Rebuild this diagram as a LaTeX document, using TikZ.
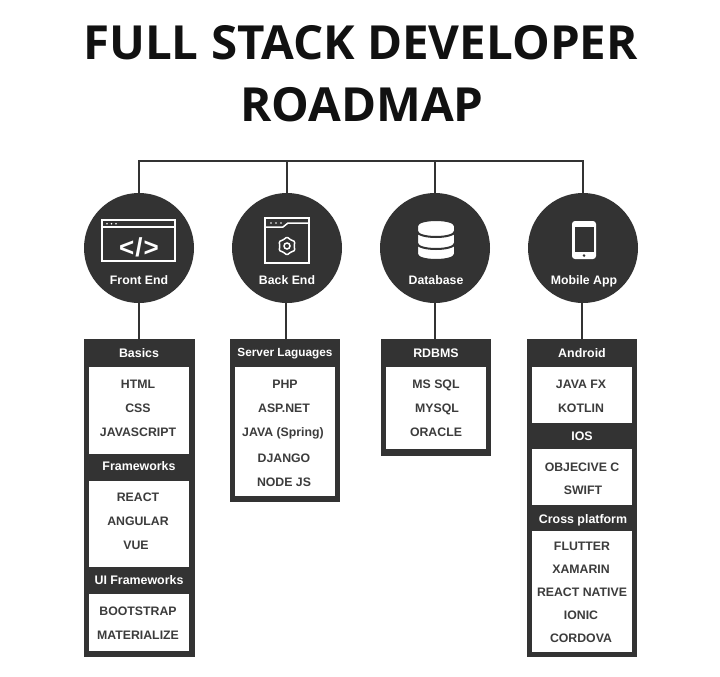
\documentclass[tikz,border=0pt]{standalone}
\usepackage{fontspec}
\setmainfont{Liberation Sans}
\newfontfamily\titlefont[FakeStretch=1.01]{Open Sans}
\definecolor{dk}{HTML}{333333}
\definecolor{itemc}{HTML}{3C3C3C}
\definecolor{titlec}{HTML}{111111}
\newcommand{\boxat}[6]{\node[#6] (#1) at ({(#2+#4)/2},{(#3+#5)/2}) [minimum width={(#4-#2)*1pt},minimum height={(#5-#3)*1pt}] {};}
\tikzset{
  every node/.style={inner sep=0pt,outer sep=0pt},
  hub/.style={circle,fill=dk,minimum size=110pt},
  hubtext/.style={anchor=base,text=white,font=\bfseries\fontsize{12.3}{14}\selectfont},
  panel/.style={rectangle,fill=dk},
  slot/.style={rectangle,fill=white},
  head/.style={anchor=base,text=white,font=\bfseries\fontsize{12.4}{14}\selectfont},
  item/.style={anchor=base,text=itemc,font=\bfseries\fontsize{12.3}{14}\selectfont},
  wire/.style={draw=dk,line width=2.8pt},
  icon/.style={draw=white,line width=1.5pt},
  titletext/.style={anchor=base,text=titlec,font=\titlefont\bfseries\fontsize{47}{52}\selectfont}
}
\begin{document}
\begin{tikzpicture}[x=1pt,y=-1pt]
\useasboundingbox (0,0) rectangle (720,677);
\fill[white] (0,0) rectangle (720,677);
\node[titletext] (title1) at (360.5,59.5) {FULL STACK DEVELOPER};
\node[titletext] (title2) at (362,121.5) {ROADMAP};
% hubs
\node[hub] (front) at (139,248) {};
\node[hub] (back) at (287,248) {};
\node[hub] (data) at (435,248) {};
\node[hub] (mobile) at (583,248) {};
% panels
\boxat{pfront}{84}{339}{194.5}{657}{panel}
\boxat{pback}{229.5}{339}{340}{502}{panel}
\boxat{pdata}{381}{339}{491}{456}{panel}
\boxat{pmobile}{527}{339}{637}{657}{panel}
% connectors
\coordinate (busl) at (139,161);
\coordinate (busr) at (583,161);
\draw[wire,line join=miter] (front.north) -- (busl) -- (busr) -- (mobile.north);
\draw[wire] (back.north) -- (back.north |- busl);
\draw[wire] (data.north) -- (data.north |- busl);
\draw[wire] (front.south) -- (pfront.north -| front.south);
\draw[wire] (back.south) ++(-1,0) coordinate (bs) -- (bs |- pback.north);
\draw[wire] (data.south) -- (data.south |- pdata.north);
\draw[wire] (mobile.south) ++(-1,0) coordinate (ms) -- (ms |- pmobile.north);
% white slots
\boxat{s1}{89}{367}{189}{454}{slot}
\boxat{s2}{89}{481}{189}{567}{slot}
\boxat{s3}{89}{594}{189}{651}{slot}
\boxat{s4}{235}{367}{335}{496}{slot}
\boxat{s5}{386}{367}{486}{449}{slot}
\boxat{s6}{532}{367}{632}{423}{slot}
\boxat{s7}{532}{449}{632}{505}{slot}
\boxat{s8}{532}{531}{632}{652}{slot}
% hub labels
\node[hubtext] (lf) at (139,284.4) {Front End};
\node[hubtext] (lb) at (287,284.4) {Back End};
\node[hubtext] (ld) at (436,284.4) {Database};
\node[hubtext] (lm) at (584,284.4) {Mobile App};
% front end icon
\draw[icon] (102,220) rectangle (175,261);
\draw[icon] (102,227) -- (175,227);
\foreach \x in {107,111.5,116}{\fill[white] (\x,223.7) circle (0.9pt);}
\node[text=white,font=\bfseries\fontsize{26}{28}\selectfont] (code) at (139,247) {<\kern1pt/\kern1pt>};
% back end icon
\draw[icon,line join=round] (265,227) -- (283,227) -- (288,223) -- (309,223);
\draw[icon] (265,218) rectangle (309,263);
\foreach \x in {271,276,281}{\fill[white] (\x,223) circle (0.9pt);}
\begin{scope}[shift={(287,246)}]
\draw[icon,rounded corners=1pt] (30:9) -- (60:7.2) -- (90:9) -- (120:7.2) -- (150:9) -- (180:7.2) -- (210:9) -- (240:7.2) -- (270:9) -- (300:7.2) -- (330:9) -- (0:7.2) -- cycle;
\draw[icon] (0,0) circle (3pt);
\end{scope}
% database icon
\foreach \t/\b in {246/254,235/243,226/231}{
  \path[fill=white,draw=dk,line width=2pt] (417,\t) .. controls (417,\t-8) and (455,\t-8) .. (455,\t) -- (455,\b) .. controls (455,\b+8) and (417,\b+8) .. (417,\b) -- cycle;
}
% phone icon
\fill[white,rounded corners=3pt] (572,221) rectangle (596,259);
\fill[dk] (574.5,226.5) rectangle (593.5,252);
\fill[dk] (584,255.6) circle (1.4pt);
% panel text
\foreach \n/\x/\y/\t in {h1/139/357.4/Basics,h2/139/470.4/Frameworks,h3/139/584.4/UI Frameworks}{\node[head] (\n) at (\x,\y) {\t};}
\node[head,font=\bfseries\fontsize{11.8}{14}\selectfont] (h4) at (285,356.4) {Server Laguages};
\foreach \n/\x/\y/\t in {h5/436/357.4/RDBMS,h6/582/357.4/Android,h7/582/440.4/IOS,h8/583/523.4/Cross platform}{\node[head] (\n) at (\x,\y) {\t};}
\foreach \n/\x/\y/\t in {
 a1/138/388.4/HTML,a2/138/412.4/CSS,a3/138/436.4/JAVASCRIPT,a4/138/501.4/REACT,a5/138/525.4/ANGULAR,a6/136/549.4/VUE,a7/138/615.4/BOOTSTRAP,a8/138/639.4/MATERIALIZE,
 b1/285/388.4/PHP,b2/284/412.4/ASP.NET,b3/283/436.4/JAVA (Spring),b4/284/462.4/DJANGO,b5/284/486.4/NODE JS,
 c1/436/388.4/MS SQL,c2/437/412.4/MYSQL,c3/436/436.4/ORACLE,
 d1/581/388.4/JAVA FX,d2/581/412.4/KOTLIN,d3/582/471.4/OBJECIVE C,d4/583/494.4/SWIFT,d5/582/550.4/FLUTTER,d6/581/573.4/XAMARIN,d7/582/596.4/REACT NATIVE,d8/581/619.4/IONIC,d9/581/642.4/CORDOVA}{
 \node[item] (\n) at (\x,\y) {\t};}
\end{tikzpicture}
\end{document}
